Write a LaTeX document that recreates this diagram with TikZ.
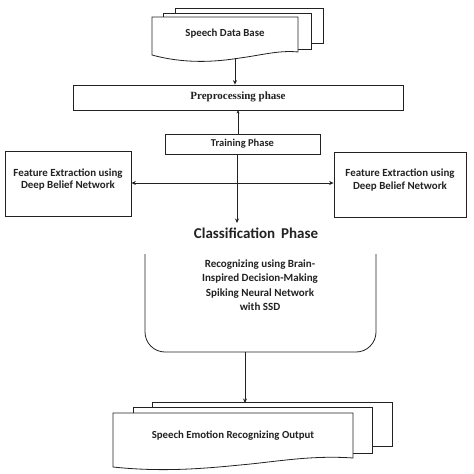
\documentclass[tikz,border=0pt]{standalone}
\usepackage{fontspec}
\setmainfont{Carlito}
\newfontfamily\serifb{Liberation Serif}
\usetikzlibrary{arrows.meta}
\definecolor{ink}{HTML}{222222}
\tikzset{
  line/.style={draw=ink, line width=0.8pt},
  arr/.style={line, -{Stealth[length=4.5pt,width=4pt]}},
  box/.style={line, rectangle, fill=white, inner sep=0pt},
  txt/.style={text=ink, font=\bfseries\fontsize{10.8}{13}\selectfont, align=center},
  page/.style={line, fill=white},
}
\begin{document}
\begin{tikzpicture}[x=1pt,y=-1pt]
\useasboundingbox[fill=white] (0,0) rectangle (474,474);

% Speech Data Base document stack
\path[page] (175,8) rectangle (323,43);
\path[page] (163,13) rectangle (311,49);
\path[page] (152,17) -- (298,17) -- (298,52)
  .. controls (280,50) and (262,55) .. (240,58)
  .. controls (215,62) and (185,64) .. (152,55) -- cycle;
\node[txt] (sdb) at (225,34) {Speech Data Base};
\coordinate (sdbB) at (235,58);

% Preprocessing
\node[box, minimum width=330pt, minimum height=25pt] (pre) at (238,97.5) {};
\node[text=ink, font=\serifb\bfseries\fontsize{11}{13}\selectfont] (pretxt) at (238,96.5) {Preprocessing phase};

% Training
\node[box, minimum width=155pt, minimum height=20pt, txt, font=\bfseries\fontsize{10.5}{12}\selectfont] (train) at (242.5,144) {Training Phase};

% Feature extraction boxes
\node[box, minimum width=126pt, minimum height=65pt] (fL) at (68,183.5) {};
\node[txt, font=\bfseries\fontsize{10.9}{12.8}\selectfont] (fLt) at (68,179.5) {Feature Extraction using\\Deep Belief Network};
\node[box, minimum width=132pt, minimum height=65pt] (fR) at (400,184.5) {};
\node[txt, font=\bfseries\fontsize{10.9}{12.8}\selectfont] (fRt) at (400,180) {Feature Extraction using\\Deep Belief Network};

% Classification
\node[text=ink, font=\bfseries\fontsize{15}{18}\selectfont] (cls) at (256,233) {Classification\, Phase};
\node[txt, font=\bfseries\fontsize{11}{14.5}\selectfont] (rec) at (260,285) {Recognizing using Brain-\\Inspired Decision-Making\\Spiking Neural Network\\with SSD};
\draw[line, rounded corners=20pt] (145,254) -- (145,352) -- (376,352) -- (376,254);
\coordinate (uB) at (245,352);

% Output document stack
\path[page] (152,402) rectangle (392,446);
\path[page] (133,407) rectangle (372,453);
\path[page] (113,413) -- (353,413) -- (353,458)
  .. controls (310,455) and (275,462) .. (240,465)
  .. controls (200,469) and (160,472) .. (113,467) -- cycle;
\node[txt] (out) at (233,436) {Speech Emotion Recognizing Output};
\coordinate (outT) at (245,403);

% Connectors
\draw[arr] (sdbB) -- (sdbB |- pre.north);
\coordinate (trT) at (238,134);
\draw[line, -{Stealth[length=3pt,width=3pt]}] (trT) -- (trT |- pre.south);
\coordinate (trB) at (237,154);
\coordinate (clsT) at (237,223);
\draw[arr] (trB) -- (clsT);
\coordinate (hub) at (237,183);
\draw[arr] (hub) -- (hub -| fL.east);
\draw[arr] (hub) -- (hub -| fR.west);
\draw[arr] (uB) -- (outT);
\end{tikzpicture}
\end{document}
